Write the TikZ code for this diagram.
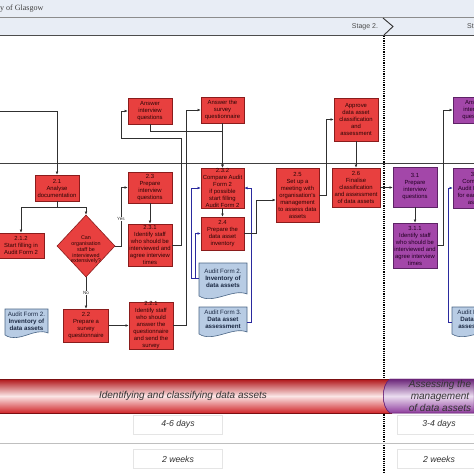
\documentclass[tikz,border=0pt]{standalone}
\usepackage{fontspec}
\setmainfont{Liberation Sans}
\newfontfamily\headserif{Liberation Serif}
\usetikzlibrary{arrows.meta,shapes.geometric,calc}
\definecolor{redfill}{HTML}{E8403F}
\definecolor{redline}{HTML}{8A1C1C}
\definecolor{redtext}{HTML}{2B0505}
\definecolor{purfill}{HTML}{A347A9}
\definecolor{purline}{HTML}{5E2266}
\definecolor{purtext}{HTML}{220022}
\definecolor{docfill}{HTML}{B8CCE4}
\definecolor{docline}{HTML}{4A6585}
\definecolor{doctext}{HTML}{1C2A44}
\definecolor{headfill}{HTML}{E8EDF5}
\definecolor{flowblue}{HTML}{2A2A9E}
\definecolor{conngrey}{HTML}{303030}
\definecolor{bandred}{HTML}{D0262A}
\definecolor{bandreddark}{HTML}{B01418}
\definecolor{bandredmid}{HTML}{FBE6E6}
\definecolor{bandpur}{HTML}{8E3C9C}
\definecolor{bandpurdark}{HTML}{6A2478}
\definecolor{bandpurmid}{HTML}{EBDDF0}
\newcommand\docoutline[4]{%
  \path[docshape] (#1,#2) -- (#3,#2) -- (#3,#4-5)
    .. controls (#3-14,#4-11) and (#1+14,#4+6) .. (#1,#4-3) -- cycle;}
\tikzset{
  procbox/.style={draw=redline, fill=redfill, line width=0.6pt, align=center,
    font=\fontsize{5.9}{7}\selectfont, text=redtext, inner xsep=0pt, inner ysep=0pt},
  purbox/.style={procbox, draw=purline, fill=purfill, text=purtext},
  docshape/.style={draw=docline, fill=docfill, line width=0.6pt},
  docbox/.style={align=center, font=\fontsize{6.2}{6.8}\selectfont, text=doctext, inner sep=0pt},
  conn/.style={draw=conngrey, line width=0.6pt},
  arr/.style={conn, -{Latex[length=3.2pt,width=2.8pt]}},
  barr/.style={arr, draw=flowblue},
  lab/.style={fill=white, inner sep=0.4pt, font=\fontsize{4.6}{5}\selectfont, text=conngrey},
  daybox/.style={draw=black!10, fill=white, minimum height=19pt, inner sep=0pt,
    font=\itshape\fontsize{8.7}{10}\selectfont, text=black!80},
  bandtext/.style={font=\itshape\fontsize{10}{12}\selectfont, text=black!80, align=center, inner sep=0pt},
}
\begin{document}
\begin{tikzpicture}[x=1pt,y=-1pt]
\useasboundingbox (0,0) rectangle (474,474);
\clip (0,0) rectangle (474,474);
% header
\fill[headfill] (0,0) rectangle (474,35);
\draw[black!45, line width=0.6pt] (0,17.5) -- (474,17.5);
\draw[black!70, line width=0.9pt] (0,35) -- (474,35);
\node[anchor=west, inner sep=0pt, font=\headserif\fontsize{8}{9}\selectfont, text=black!75] (uni) at (0,9) {y of Glasgow};
\node[inner sep=0pt, font=\fontsize{7}{8}\selectfont, text=black!70] (st2) at (365,27) {Stage 2.};
\node[anchor=west, inner sep=0pt, font=\fontsize{7}{8}\selectfont, text=black!70] (st3) at (467,27) {Stage 3.};
\draw[black!80, line width=0.9pt] (383,18) -- (393,26.5) -- (384,35);
% swimlane divider
\draw[black!75, line width=0.8pt] (0,163) -- (474,163);
% stage divider
\draw[black, line width=1.1pt, dash pattern=on 1.1pt off 1.1pt] (384,36) -- (384,474);

% documents
\docoutline{5}{309}{48}{338}
\docoutline{199}{263}{247}{299}
\docoutline{199}{307}{247}{337}
\docoutline{452}{307}{500}{337}
\node[docbox, minimum width=43pt, minimum height=24pt] (doc1) at (26.5,321) {Audit Form 2.\\\textbf{Inventory of}\\\textbf{data assets}};
\node[docbox, minimum width=48pt, minimum height=30pt] (doc2) at (223,278) {Audit Form 2.\\\textbf{Inventory of}\\\textbf{data assets}};
\node[docbox, minimum width=48pt, minimum height=25pt] (doc3) at (223,319.5) {Audit Form 3.\\\textbf{Data asset}\\\textbf{assessment}};
\node[docbox, minimum width=48pt, minimum height=25pt] (doc4) at (476,319.5) {Audit Form 3.\\\textbf{Data asset}\\\textbf{assessment}};

% red process boxes
\node[procbox, minimum width=44pt, minimum height=26pt] (aiq) at (150,111) {Answer\\interview\\questions};
\node[procbox, minimum width=43pt, minimum height=26pt] (asq) at (222.5,110) {Answer the\\survey\\questionnaire};
\node[procbox, minimum width=44pt, minimum height=26pt] (n21) at (57,188) {2.1\\Analyse\\documentation};
\node[procbox, minimum width=46pt, minimum height=25pt] (n212) at (21,245.5) {2.1.2\\Start filling in\\Audit Form 2};
\node[diamond, draw=redline, fill=redfill, line width=0.6pt, minimum width=58pt, minimum height=62pt, inner sep=0pt] (dia) at (86,246) {};
\node[align=center, inner sep=0pt, font=\fontsize{5.4}{5.8}\selectfont, text=redtext] (diatext) at (86,250) {Can\\organisation\\staff be\\interviewed\\extensively?};
\node[procbox, minimum width=45pt, minimum height=33pt] (n22) at (86,325.5) {2.2\\Prepare a\\survey\\questionnaire};
\node[procbox, minimum width=44pt, minimum height=47pt] (n221) at (151,325.5) {2.2.1\\Identify staff\\who should\\answer the\\questionnaire\\and send the\\survey};
\node[procbox, minimum width=44pt, minimum height=31pt] (n23) at (150,187.5) {2.3\\Prepare\\interview\\questions};
\node[procbox, minimum width=44pt, minimum height=42pt] (n231) at (150,245) {2.3.1\\Identify staff\\who should be\\interviewed and\\agree interview\\times};
\node[procbox, minimum width=43pt, minimum height=40pt] (n232) at (222.5,188) {2.3.2\\Compare Audit\\Form 2\\if possible\\start filling\\Audit Form 2};
\node[procbox, minimum width=43pt, minimum height=33pt] (n24) at (222.5,233.5) {2.4\\Prepare the\\data asset\\inventory};
\node[procbox, minimum width=43pt, minimum height=54pt] (n25) at (297.5,195) {2.5\\Set up a\\meeting with\\organisation's\\management\\to assess data\\assets};
\node[procbox, minimum width=44pt, minimum height=43pt] (apr) at (356,119.5) {Approve\\data asset\\classification\\and\\assessment};
\node[procbox, minimum width=48pt, minimum height=39pt] (n26) at (356,187.5) {2.6\\Finalise\\classification\\and assessment\\of data assets};

% purple process boxes
\node[purbox, minimum width=44pt, minimum height=40pt] (n31) at (415,187) {3.1\\Prepare\\interview\\questions};
\node[purbox, minimum width=44pt, minimum height=45pt] (n311) at (415,245.5) {3.1.1\\Identify staff\\who should be\\interviewed and\\agree interview\\times};
\node[purbox, minimum width=44pt, minimum height=26pt] (paiq) at (475,110) {Answer\\interview\\questions};
\node[purbox, minimum width=44pt, minimum height=40pt] (n32) at (475,188) {3.2\\Complete\\Audit Form 3\\for each data\\asset};

% connectors
\coordinate (inl) at (0,111);
\draw[arr] (inl) -| (n21.north);
\draw[conn] (n21.south) -- ++(0,6) coordinate (sp);
\draw[arr] (sp) -| (n212.north);
\draw[arr] (sp) -| (dia.north);
\draw[arr] (dia.east) -- ++(6,0) |- (n23.west);
\node[lab] (yes) at (121,219) {Yes};
\draw[arr] (dia.south) -- (n22.north) node[lab, pos=0.5] (no) {No};
\draw[arr] (n22.east) -- (n221.west);
\draw[arr] (n23.south) -- (n231.north);
\draw[arr] (n231.east) -| (181,138) -| (121,111) -- (aiq.west);
\draw[arr] (n221.east) -- ++(13,0) |- (asq.west);
\draw[arr] (aiq.south) -- ++(0,7) -| (n232.north);
\draw[arr] (asq.south) -- (n232.north);
\draw[arr] (n232.south) -- (n24.north);
\draw[barr] (doc2.west) -- ++(-8,0) |- (n232.west);
\draw[barr] (doc2.west) -- ++(-4,0) |- (n24.west);
\draw[barr] ([yshift=-3pt]doc3.east) -- ++(4,0) |- (n232.east);
\draw[arr] (n24.east) -- ++(12,0) |- ([yshift=-5pt]n25.west);
\draw[arr] (n25.east) -- ++(7,0) |- (apr.west);
\draw[arr] (apr.south) -- (n26.north);
\draw[arr] (n26.east) -- (n26.east -| n31.west);
\draw[arr] (n31.south) -- (n311.north);
\draw[arr] (n311.east) -- ++(6,0) |- (paiq.west);
\draw[barr] ([yshift=-3pt]doc4.west) -- ++(-4,0) |- (n32.west);

% bottom phase bands
\shade[top color=bandreddark, bottom color=bandred, middle color=bandredmid] (0,379) rectangle (392,413);
\draw[bandreddark!70!black, line width=0.5pt] (0,379) -- (392,379) (0,413) -- (392,413);
\shade[top color=bandpurdark, bottom color=bandpur, middle color=bandpurmid, draw=bandpurdark]
  (390,379) -- (474,379) -- (474,413) -- (390,413) .. controls (381,407) and (381,385) .. (390,379) -- cycle;
\draw[bandpurdark, line width=0.5pt] (390,413) .. controls (381,407) and (381,385) .. (390,379) -- (474,379) (390,413) -- (474,413);
\node[bandtext] (ph1) at (183,396) {Identifying and classifying data assets};
\node[bandtext] (ph2) at (440,396) {Assessing the\\management\\of data assets};

% durations
\node[daybox, minimum width=89pt] (d1) at (178,424.5) {4-6 days};
\draw[black!25, line width=0.6pt] (0,443) -- (474,443);
\node[daybox, minimum width=89pt] (d2) at (178,459) {2 weeks};
\node[daybox, minimum width=84pt] (d3) at (439,424.5) {3-4 days};
\node[daybox, minimum width=84pt] (d4) at (439,459) {2 weeks};
\end{tikzpicture}
\end{document}
